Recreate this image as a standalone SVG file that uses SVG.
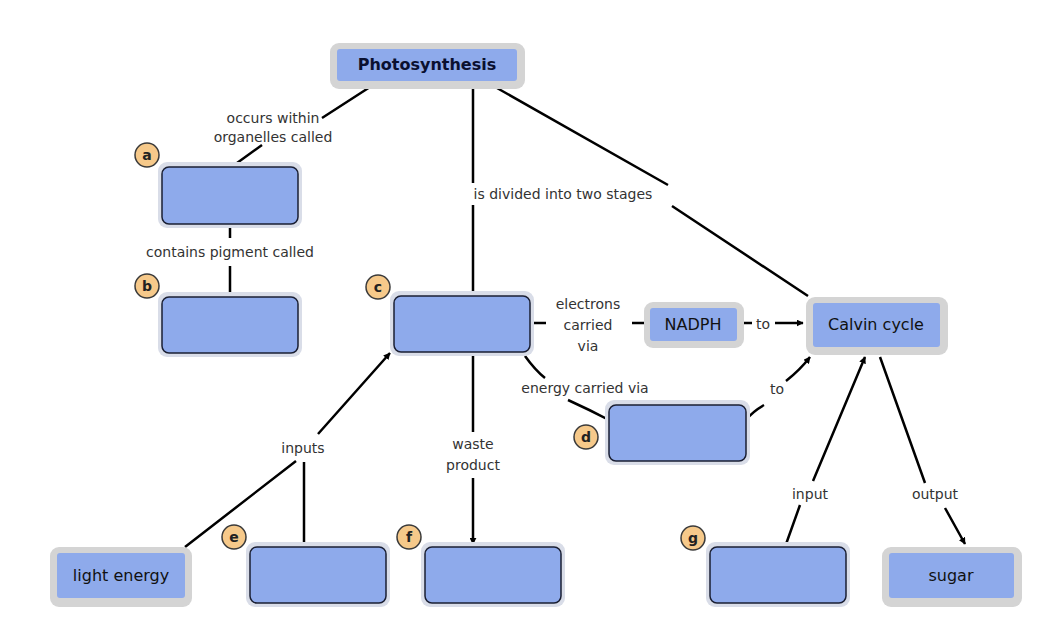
<svg xmlns="http://www.w3.org/2000/svg" width="1042" height="631" viewBox="0 0 1042 631">
<defs>
<marker id="ah" viewBox="0 0 10 10" refX="9" refY="5" markerWidth="7" markerHeight="7" orient="auto" markerUnits="userSpaceOnUse"><path d="M0,0 L10,5 L0,10 z" fill="#000"/></marker>
<style>
.cg{fill:#d4d4d4;stroke:none}
.ci{fill:#8eaaeb;stroke:none}
.bo{fill:#d9dde8;stroke:none}
.bx{fill:#8eaaeb;stroke:#1a1f33;stroke-width:1.5}
.bd circle{fill:#f6c98a;stroke:#3a3a3a;stroke-width:1.5}
.bd text{font:bold 14px "DejaVu Sans",sans-serif;fill:#222;text-anchor:middle}
.l{stroke:#000;stroke-width:2.5;fill:none}
.t{font:14px "DejaVu Sans",sans-serif;fill:#333;text-anchor:middle}
.n{font:16px "DejaVu Sans",sans-serif;fill:#111;text-anchor:middle}
</style>
</defs>
<rect width="1042" height="631" fill="#fff"/>
<g id="connectors">
<path class="l" d="M370,87 L322,118 M262,145 L237,163"/>
<text class="t" x="273" y="123">occurs within</text>
<text class="t" x="273" y="142">organelles called</text>
<path class="l" d="M473,88 V183 M473,205 V296"/>
<text class="t" x="563" y="199">is divided into two stages</text>
<path class="l" d="M497,88 L668,185 M672,206 L808,296"/>
<path class="l" d="M230,224 V238 M230,266 V297"/>
<text class="t" x="230" y="257">contains pigment called</text>
<path class="l" d="M530,323 H546 M632,323 H645"/>
<text class="t" x="588" y="309">electrons</text>
<text class="t" x="588" y="330">carried</text>
<text class="t" x="588" y="351">via</text>
<path class="l" d="M737,323 H752"/>
<text class="t" x="763" y="329">to</text>
<path class="l" d="M775,323 H803" marker-end="url(#ah)"/>
<path class="l" d="M525,356 Q535,370 545,378 M568,400 Q590,410 609,420"/>
<text class="t" x="585" y="393">energy carried via</text>
<path class="l" d="M746,420 Q752,412 764,405"/>
<text class="t" x="777" y="394">to</text>
<path class="l" d="M786,381 Q800,370 810,357" marker-end="url(#ah)"/>
<path class="l" d="M185,547 L296,461 M318,434 L390,353" marker-end="url(#ah)"/>
<text class="t" x="303" y="453">inputs</text>
<path class="l" d="M304,547 V462"/>
<path class="l" d="M473,352 V432"/>
<text class="t" x="473" y="449">waste</text>
<text class="t" x="473" y="470">product</text>
<path class="l" d="M473,478 V544" marker-end="url(#ah)"/>
<path class="l" d="M785,547 L800,505 M813,481 L865,357" marker-end="url(#ah)"/>
<text class="t" x="810" y="499">input</text>
<path class="l" d="M880,357 L925,483 M945,508 L965,544" marker-end="url(#ah)"/>
<text class="t" x="935" y="499">output</text>
</g>
<g id="photosynthesis"><rect class="cg" x="330" y="43" width="195" height="46" rx="9"/><rect class="ci" x="337" y="49" width="180" height="32" rx="3"/><text x="427" y="70" style="font:bold 16px 'DejaVu Sans',sans-serif;fill:#0a1030;text-anchor:middle">Photosynthesis</text></g>
<g id="a"><rect class="bo" x="158" y="162" width="144" height="66" rx="9"/><rect class="bx" x="162" y="167" width="136" height="57" rx="7"/></g>
<g id="b"><rect class="bo" x="158" y="292" width="144" height="65" rx="9"/><rect class="bx" x="162" y="297" width="136" height="56" rx="7"/></g>
<g id="c"><rect class="bo" x="390" y="291" width="144" height="65" rx="9"/><rect class="bx" x="394" y="296" width="136" height="56" rx="7"/></g>
<g id="d"><rect class="bo" x="605" y="400" width="145" height="65" rx="9"/><rect class="bx" x="609" y="405" width="137" height="56" rx="7"/></g>
<g id="e"><rect class="bo" x="246" y="542" width="144" height="65" rx="9"/><rect class="bx" x="250" y="547" width="136" height="56" rx="7"/></g>
<g id="f"><rect class="bo" x="421" y="542" width="144" height="65" rx="9"/><rect class="bx" x="425" y="547" width="136" height="56" rx="7"/></g>
<g id="g"><rect class="bo" x="706" y="542" width="144" height="65" rx="9"/><rect class="bx" x="710" y="547" width="136" height="56" rx="7"/></g>
<g id="light-energy"><rect class="cg" x="50" y="547" width="142" height="60" rx="9"/><rect class="ci" x="57" y="553" width="128" height="45" rx="3"/><text class="n" x="121" y="581">light energy</text></g>
<g id="sugar"><rect class="cg" x="882" y="547" width="140" height="60" rx="9"/><rect class="ci" x="889" y="553" width="125" height="45" rx="3"/><text class="n" x="951" y="581">sugar</text></g>
<g id="calvin"><rect class="cg" x="806" y="297" width="142" height="58" rx="9"/><rect class="ci" x="813" y="303" width="127" height="44" rx="3"/><text class="n" x="876" y="330">Calvin cycle</text></g>
<g id="nadph"><rect class="cg" x="644" y="302" width="100" height="46" rx="9"/><rect class="ci" x="650" y="308" width="87" height="33" rx="3"/><text class="n" x="693" y="330">NADPH</text></g>
<g class="bd">
<g id="badge-a"><circle cx="147" cy="155" r="12"/><text x="147" y="160">a</text></g>
<g id="badge-b"><circle cx="147" cy="286" r="12"/><text x="147" y="291">b</text></g>
<g id="badge-c"><circle cx="378" cy="287" r="12"/><text x="378" y="292">c</text></g>
<g id="badge-d"><circle cx="586" cy="437" r="12"/><text x="586" y="442">d</text></g>
<g id="badge-e"><circle cx="234" cy="537" r="12"/><text x="234" y="542">e</text></g>
<g id="badge-f"><circle cx="409" cy="537" r="12"/><text x="409" y="542">f</text></g>
<g id="badge-g"><circle cx="693" cy="538" r="12"/><text x="693" y="543">g</text></g>
</g>
</svg>
